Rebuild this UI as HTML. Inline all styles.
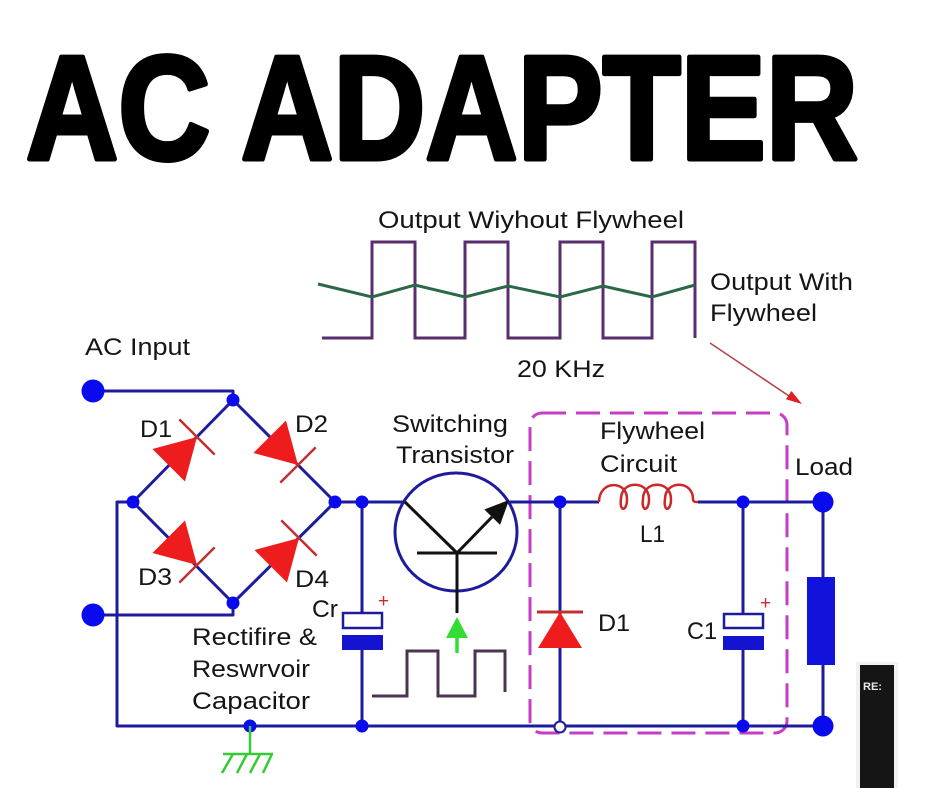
<!DOCTYPE html>
<html><head><meta charset="utf-8"><style>
html,body{margin:0;padding:0;background:#fff;}
body{width:940px;height:788px;overflow:hidden;position:relative;}
svg{position:absolute;left:0;top:0;}
text{font-family:"Liberation Sans",Arial,sans-serif;fill:#151515;}
</style></head><body>
<svg width="940" height="788" viewBox="0 0 940 788" xmlns="http://www.w3.org/2000/svg">
<!-- Title -->
<text x="26" y="159" font-size="148" font-weight="bold" textLength="832" lengthAdjust="spacingAndGlyphs" stroke="#000" stroke-width="5" stroke-linejoin="round" style="fill:#000">AC ADAPTER</text>

<!-- Waveforms -->
<polyline points="322,338 372,338 372,242 415,242 415,338 465,338 465,242 508,242 508,338 560,338 560,242 603,242 603,338 652,338 652,242 695,242 695,338" fill="none" stroke="#5a2d6e" stroke-width="3"/>
<polyline points="318,284 372,297 415,285 465,297 508,286 560,297 603,286 652,297 695,285" fill="none" stroke="#2a6848" stroke-width="3"/>

<text x="378" y="228" font-size="24" textLength="306" lengthAdjust="spacingAndGlyphs">Output Wiyhout Flywheel</text>
<text x="710" y="290" font-size="24" textLength="143" lengthAdjust="spacingAndGlyphs">Output With</text>
<text x="710" y="321" font-size="24" textLength="107" lengthAdjust="spacingAndGlyphs">Flywheel</text>
<text x="517" y="377" font-size="24" textLength="88" lengthAdjust="spacingAndGlyphs">20 KHz</text>

<!-- red pointer arrow -->
<line x1="710" y1="343" x2="792" y2="398" stroke="#b04848" stroke-width="1.6"/>
<polygon points="0,0 -16,-5 -16,5" fill="#e02020" transform="translate(802,404) rotate(33.7)"/>

<!-- Flywheel dashed box -->
<rect x="530" y="413" width="257" height="320" rx="12" ry="12" fill="none" stroke="#c63ec6" stroke-width="3" stroke-dasharray="24 10"/>

<!-- Wires -->
<g stroke="#1c1c9c" stroke-width="3" fill="none" stroke-linejoin="round">
  <polyline points="93,391 233,391 233,400"/>
  <polyline points="93,615 233,615 233,603"/>
  <line x1="133" y1="502" x2="233" y2="400"/>
  <line x1="233" y1="400" x2="335" y2="502"/>
  <line x1="133" y1="502" x2="233" y2="603"/>
  <line x1="233" y1="603" x2="335" y2="502"/>
  <polyline points="133,502 117,502 117,726 823,726"/>
  <line x1="335" y1="502" x2="404" y2="502"/>
  <line x1="508" y1="502" x2="599" y2="502"/>
  <line x1="698" y1="502" x2="823" y2="502"/>
  <line x1="362" y1="502" x2="362" y2="613"/>
  <line x1="362" y1="650" x2="362" y2="726"/>
  <line x1="560" y1="502" x2="560" y2="721"/>
  <line x1="743" y1="502" x2="743" y2="614"/>
  <line x1="743" y1="650" x2="743" y2="726"/>
  <line x1="823" y1="502" x2="823" y2="726"/>
  <ellipse cx="456" cy="532" rx="61" ry="59"/>
</g>

<!-- Bridge diodes -->
<g fill="#ee1c1c">
  <g transform="translate(197,437) rotate(-45)"><polygon points="0,0 -40,-23 -40,23"/><line x1="0" y1="-25" x2="0" y2="25" stroke="#c03030" stroke-width="2.5"/></g>
  <g transform="translate(298,465) rotate(45)"><polygon points="0,0 -40,-23 -40,23"/><line x1="0" y1="-25" x2="0" y2="25" stroke="#c03030" stroke-width="2.5"/></g>
  <g transform="translate(197,565) rotate(45)"><polygon points="0,0 -40,-23 -40,23"/><line x1="0" y1="-25" x2="0" y2="25" stroke="#c03030" stroke-width="2.5"/></g>
  <g transform="translate(299,538) rotate(-45)"><polygon points="0,0 -40,-23 -40,23"/><line x1="0" y1="-25" x2="0" y2="25" stroke="#c03030" stroke-width="2.5"/></g>
  <g transform="translate(560,612) rotate(-90)"><polygon points="0,0 -36,-22 -36,22"/><line x1="0" y1="-23" x2="0" y2="23" stroke="#c03030" stroke-width="3"/></g>
</g>

<!-- Nodes -->
<g fill="#0a0aee">
  <circle cx="93" cy="391" r="11.5"/>
  <circle cx="93" cy="615" r="11.5"/>
  <circle cx="233" cy="400" r="6.5"/>
  <circle cx="133" cy="502" r="6.5"/>
  <circle cx="335" cy="502" r="6.5"/>
  <circle cx="233" cy="603" r="6.5"/>
  <circle cx="362" cy="502" r="6.5"/>
  <circle cx="250" cy="726" r="6.5"/>
  <circle cx="362" cy="726" r="6.5"/>
  <circle cx="560" cy="502" r="6.5"/>
  <circle cx="743" cy="502" r="6.5"/>
  <circle cx="743" cy="726" r="6.5"/>
  <circle cx="823" cy="502" r="10.5"/>
  <circle cx="823" cy="726" r="10.5"/>
</g>
<circle cx="560" cy="727" r="5.5" fill="#fff" stroke="#1c1c9c" stroke-width="2"/>

<!-- Transistor internals -->
<g stroke="#111" stroke-width="3" fill="none">
  <line x1="405" y1="502" x2="457" y2="553"/>
  <line x1="457" y1="553" x2="492" y2="517"/>
  <line x1="417" y1="553" x2="497" y2="553"/>
  <line x1="457" y1="553" x2="457" y2="613"/>
</g>
<polygon points="0,0 -24,-11 -24,11" fill="#111" transform="translate(509,500) rotate(-45.6)"/>

<!-- Green arrow -->
<polygon points="457,617 446,638 468,638" fill="#33dd33"/>
<line x1="457" y1="636" x2="457" y2="653" stroke="#33dd33" stroke-width="3.5"/>

<!-- drive pulses -->
<polyline points="372,696 407,696 407,651 438,651 438,696 475,696 475,651 505,651 505,692" fill="none" stroke="#4a3550" stroke-width="3"/>

<!-- Cr capacitor -->
<rect x="343" y="613" width="39" height="15" fill="#fff" stroke="#1c1c9c" stroke-width="2.5"/>
<rect x="342" y="635" width="41" height="15" fill="#1414d0"/>
<text x="378" y="607" font-size="19" style="fill:#cc2a2a">+</text>

<!-- C1 capacitor -->
<rect x="724" y="614" width="39" height="14" fill="#fff" stroke="#1c1c9c" stroke-width="2.5"/>
<rect x="723" y="636" width="41" height="14" fill="#1414d0"/>
<text x="760" y="609" font-size="19" style="fill:#cc2a2a">+</text>

<!-- Inductor -->
<path d="M599,502 C599,480 627,480 627,499 C627,512 619,512 621,499 C621,480 649,480 649,499 C649,512 641,512 643,499 C643,480 671,480 671,499 C671,512 663,512 665,499 C665,480 693,480 693,499 C693,502 695,502 698,502" fill="none" stroke="#cc2828" stroke-width="2.5"/>

<!-- Load resistor -->
<rect x="807" y="577" width="28" height="88" fill="#1212dd"/>

<!-- Ground -->
<g stroke="#33cc33" stroke-width="2.5" fill="none">
  <line x1="250" y1="726" x2="250" y2="754"/>
  <line x1="223" y1="754" x2="273" y2="754"/>
  <line x1="233" y1="754" x2="222" y2="773"/>
  <line x1="247" y1="754" x2="237" y2="773"/>
  <line x1="260" y1="754" x2="250" y2="773"/>
  <line x1="272" y1="754" x2="263" y2="773"/>
</g>

<!-- Labels -->
<text x="85" y="355" font-size="24" textLength="105" lengthAdjust="spacingAndGlyphs">AC Input</text>
<text x="140" y="437" font-size="24" textLength="32" lengthAdjust="spacingAndGlyphs">D1</text>
<text x="295" y="432" font-size="24" textLength="33" lengthAdjust="spacingAndGlyphs">D2</text>
<text x="138" y="585" font-size="24" textLength="34" lengthAdjust="spacingAndGlyphs">D3</text>
<text x="295" y="587" font-size="24" textLength="34" lengthAdjust="spacingAndGlyphs">D4</text>
<text x="312" y="617" font-size="24" textLength="26" lengthAdjust="spacingAndGlyphs">Cr</text>
<text x="192" y="645" font-size="24" textLength="125" lengthAdjust="spacingAndGlyphs">Rectifire &amp;</text>
<text x="192" y="677" font-size="24" textLength="118" lengthAdjust="spacingAndGlyphs">Reswrvoir</text>
<text x="192" y="709" font-size="24" textLength="118" lengthAdjust="spacingAndGlyphs">Capacitor</text>
<text x="392" y="432" font-size="24" textLength="116" lengthAdjust="spacingAndGlyphs">Switching</text>
<text x="396" y="463" font-size="24" textLength="118" lengthAdjust="spacingAndGlyphs">Transistor</text>
<text x="600" y="439" font-size="24" textLength="105" lengthAdjust="spacingAndGlyphs">Flywheel</text>
<text x="600" y="472" font-size="24" textLength="77" lengthAdjust="spacingAndGlyphs">Circuit</text>
<text x="795" y="475" font-size="24" textLength="58" lengthAdjust="spacingAndGlyphs">Load</text>
<text x="640" y="542" font-size="24" textLength="25" lengthAdjust="spacingAndGlyphs">L1</text>
<text x="598" y="631" font-size="24" textLength="32" lengthAdjust="spacingAndGlyphs">D1</text>
<text x="687" y="639" font-size="24" textLength="30" lengthAdjust="spacingAndGlyphs">C1</text>

<!-- RE: box -->
<rect x="856" y="662" width="42" height="130" fill="#e8e8e8" opacity="0.6"/>
<rect x="860" y="665" width="34" height="123" fill="#151515"/>
<text x="863" y="690" font-size="11" font-weight="bold" style="fill:#e8e8e8">RE:</text>
</svg>
</body></html>
